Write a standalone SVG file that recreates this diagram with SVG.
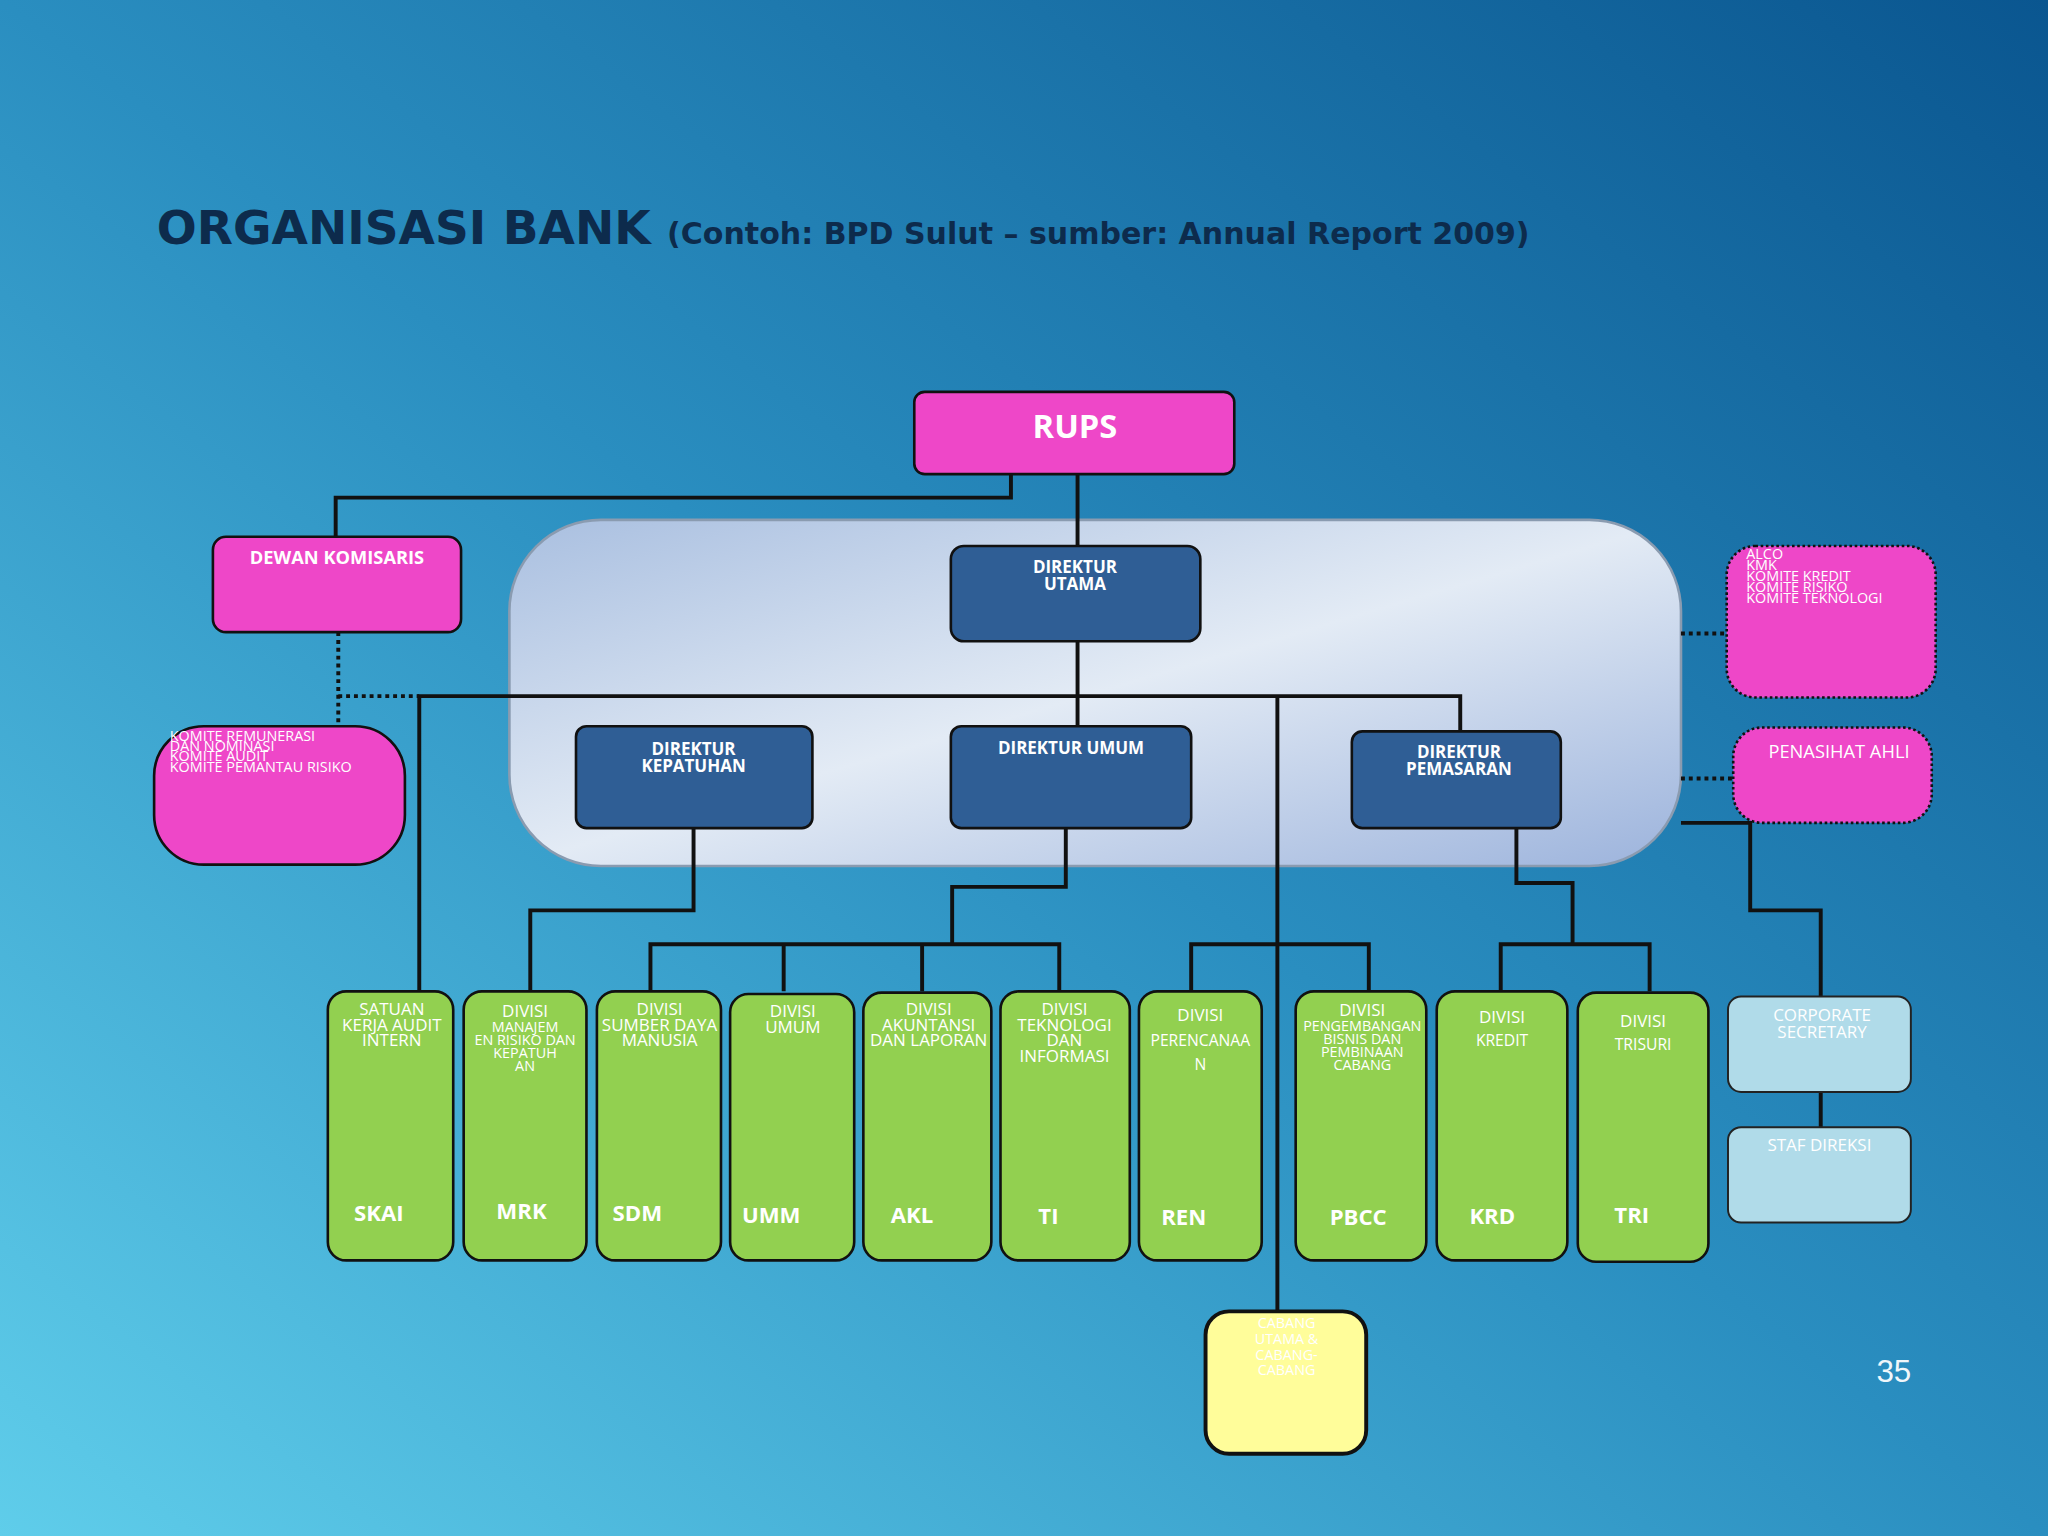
<svg xmlns="http://www.w3.org/2000/svg" width="2048" height="1536" viewBox="0 0 2048 1536">
<defs>
<linearGradient id="bg" x1="1" y1="0" x2="0" y2="1"><stop offset="0" stop-color="#0a5690"/><stop offset="0.5" stop-color="#2a8ec0"/><stop offset="1" stop-color="#5fcdea"/></linearGradient>
<linearGradient id="panel" x1="0" y1="0" x2="1" y2="1"><stop offset="0" stop-color="#a9bfe0"/><stop offset="0.5" stop-color="#e3ebf5"/><stop offset="1" stop-color="#9cb3dc"/></linearGradient>
<style>
.pk{fill:#ee47c8;stroke:#111;stroke-width:2}
.dk{fill:#2f5e95;stroke:#111;stroke-width:2}
.gr{fill:#92d050;stroke:#111;stroke-width:2}
.lb{fill:#b0dbe9;stroke:#222;stroke-width:1.5}
.dt{stroke-dasharray:2 2}
.c{fill:none;stroke:#111;stroke-width:3}
.cd{fill:none;stroke:#111;stroke-width:3;stroke-dasharray:3 3}
text{font-family:"Open Sans","Liberation Sans",sans-serif;fill:#fff;text-anchor:middle}
.b{font-weight:bold}
.s{font-size:11px}
.m{font-size:13px}
.code{font-weight:bold;font-size:17px;text-anchor:start}
</style>
</defs>
<rect width="2048" height="1536" fill="url(#bg)"/>
<g transform="scale(1.30612)">
<text x="120" y="187" style="font-family:'DejaVu Sans',sans-serif;font-weight:bold;font-size:36px;fill:#0d2b4c;text-anchor:start">ORGANISASI BANK <tspan style="font-size:23px">(Contoh: BPD Sulut – sumber: Annual Report 2009)</tspan></text>
<rect x="390" y="398" width="897" height="265" rx="70" fill="url(#panel)" stroke="#8a9bb0" stroke-width="2"/>
<g id="connectors">
<path class="c" d="M825 363V418M774 363V381H257V411M825 491V556M321 759V533H1118V560M978 533V1004M531 634V697H406V759M816 634V679H729V723M498 759V723H811V759M600 723V759M706 723V759M912 759V723H1048V759M1161 634V676H1204V723M1149 759V723H1263V759M1287 630H1340V697H1394V763M1394 836V863"/>
<path class="cd" d="M259 484V556M259 533H321M1287 485H1322M1287 596H1327"/>
</g>
<g id="rups"><rect class="pk" x="700" y="300" width="245" height="63" rx="8"/><text x="823" y="335" class="b" font-size="25">RUPS</text></g>
<g id="dewan"><rect class="pk" x="163" y="411" width="190" height="73" rx="10"/><text x="258" y="432" class="b" font-size="14">DEWAN KOMISARIS</text></g>
<g id="komite-kiri"><rect class="pk" x="118" y="556" width="192" height="106" rx="38"/>
<text x="130" y="567" class="s" style="text-anchor:start"><tspan x="130">KOMITE REMUNERASI</tspan><tspan x="130" dy="8">DAN NOMINASI</tspan><tspan x="130" dy="8">KOMITE AUDIT</tspan><tspan x="130" dy="8">KOMITE PEMANTAU RISIKO</tspan></text></g>
<g id="dirut"><rect class="dk" x="728" y="418" width="191" height="73" rx="10"/><text x="823" y="439" class="b m">DIREKTUR</text><text x="823" y="452" class="b m">UTAMA</text></g>
<g id="alco"><rect class="pk dt" x="1322" y="418" width="160" height="116" rx="22"/>
<text x="1337" y="428" class="s" style="text-anchor:start"><tspan x="1337">ALCO</tspan><tspan x="1337" dy="8.5">KMK</tspan><tspan x="1337" dy="8.5">KOMITE KREDIT</tspan><tspan x="1337" dy="8.5">KOMITE RISIKO</tspan><tspan x="1337" dy="8.5">KOMITE TEKNOLOGI</tspan></text></g>
<g id="penasihat"><rect class="pk dt" x="1327" y="557" width="152" height="73" rx="22"/><text x="1408" y="580" font-size="14">PENASIHAT AHLI</text></g>
<g id="kepatuhan"><rect class="dk" x="441" y="556" width="181" height="78" rx="8"/><text x="531" y="578" class="b m">DIREKTUR</text><text x="531" y="591" class="b m">KEPATUHAN</text></g>
<g id="umum"><rect class="dk" x="728" y="556" width="184" height="78" rx="8"/><text x="820" y="577" class="b m">DIREKTUR UMUM</text></g>
<g id="pemasaran"><rect class="dk" x="1035" y="560" width="160" height="74" rx="8"/><text x="1117" y="580" class="b m">DIREKTUR</text><text x="1117" y="593" class="b m">PEMASARAN</text></g>
<g id="skai"><rect class="gr" x="251" y="759" width="96" height="206" rx="14"/><text x="300" y="777" class="m">SATUAN</text><text x="300" y="789" class="m">KERJA AUDIT</text><text x="300" y="801" class="m">INTERN</text><text x="271" y="935" class="code">SKAI</text></g>
<g id="mrk"><rect class="gr" x="355" y="759" width="94" height="206" rx="14"/><text x="402" y="779" class="m">DIVISI</text><text x="402" y="790" class="s">MANAJEM</text><text x="402" y="800" class="s">EN RISIKO  DAN</text><text x="402" y="810" class="s">KEPATUH</text><text x="402" y="820" class="s">AN</text><text x="380" y="933" class="code">MRK</text></g>
<g id="sdm"><rect class="gr" x="457" y="759" width="95" height="206" rx="14"/><text x="505" y="777" class="m">DIVISI</text><text x="505" y="789" class="m">SUMBER DAYA</text><text x="505" y="801" class="m">MANUSIA</text><text x="469" y="935" class="code">SDM</text></g>
<g id="umm"><rect class="gr" x="559" y="761" width="95" height="204" rx="14"/><text x="607" y="779" class="m">DIVISI</text><text x="607" y="791" class="m">UMUM</text><text x="568" y="936" class="code">UMM</text></g>
<g id="akl"><rect class="gr" x="661" y="760" width="98" height="205" rx="14"/><text x="711" y="777" class="m">DIVISI</text><text x="711" y="789" class="m">AKUNTANSI</text><text x="711" y="801" class="m">DAN LAPORAN</text><text x="682" y="936" class="code">AKL</text></g>
<g id="ti"><rect class="gr" x="766" y="759" width="99" height="206" rx="14"/><text x="815" y="777" class="m">DIVISI</text><text x="815" y="789" class="m">TEKNOLOGI</text><text x="815" y="801" class="m">DAN</text><text x="815" y="813" class="m">INFORMASI</text><text x="795" y="937" class="code">TI</text></g>
<g id="ren"><rect class="gr" x="872" y="759" width="94" height="206" rx="14"/><text x="919" y="782" class="m">DIVISI</text><text x="919" y="801" font-size="12">PERENCANAA</text><text x="919" y="819" font-size="12">N</text><text x="889" y="938" class="code">REN</text></g>
<g id="pbcc"><rect class="gr" x="992" y="759" width="100" height="206" rx="14"/><text x="1043" y="778" class="m">DIVISI</text><text x="1043" y="789" class="s">PENGEMBANGAN</text><text x="1043" y="799" class="s">BISNIS DAN</text><text x="1043" y="809" class="s">PEMBINAAN</text><text x="1043" y="819" class="s">CABANG</text><text x="1018" y="938" class="code">PBCC</text></g>
<g id="krd"><rect class="gr" x="1100" y="759" width="100" height="206" rx="14"/><text x="1150" y="783" class="m">DIVISI</text><text x="1150" y="801" font-size="12">KREDIT</text><text x="1125" y="937" class="code">KRD</text></g>
<g id="tri"><rect class="gr" x="1208" y="760" width="100" height="206" rx="14"/><text x="1258" y="786" class="m">DIVISI</text><text x="1258" y="804" font-size="12">TRISURI</text><text x="1236" y="936" class="code">TRI</text></g>
<g id="corsec"><rect class="lb" x="1323" y="763" width="140" height="73" rx="10"/><text x="1395" y="782" class="m">CORPORATE</text><text x="1395" y="795" class="m">SECRETARY</text></g>
<g id="staf"><rect class="lb" x="1323" y="863" width="140" height="73" rx="10"/><text x="1393" y="881" class="m">STAF DIREKSI</text></g>
<g id="cabang"><rect x="923" y="1004" width="123" height="109" rx="18" fill="#fffd9a" stroke="#111" stroke-width="3"/><text x="985" y="1017" class="s">CABANG</text><text x="985" y="1029" class="s">UTAMA &amp;</text><text x="985" y="1041" class="s">CABANG-</text><text x="985" y="1053" class="s">CABANG</text></g>
<text x="1450" y="1058" style="font-family:'Liberation Sans',sans-serif;font-size:24px;fill:#f0f6fa">35</text>
</g>
</svg>
